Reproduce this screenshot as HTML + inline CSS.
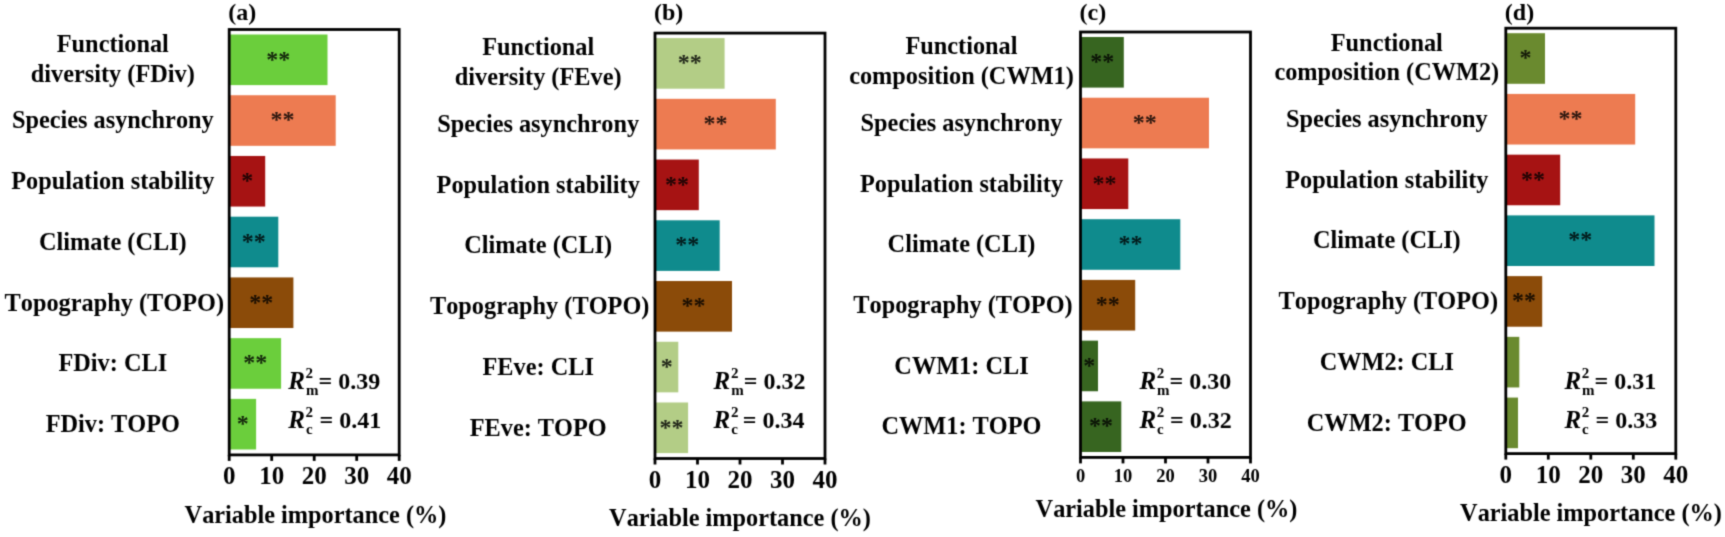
<!DOCTYPE html>
<html><head><meta charset="utf-8"><title>Variable importance</title>
<style>
html,body{margin:0;padding:0;background:#fff;}
svg{display:block;}
text{font-family:'Liberation Serif', 'Times New Roman', serif;font-weight:bold;fill:#000;font-kerning:none;}
</style></head><body>
<svg width="1725" height="537" viewBox="0 0 1725 537">
<defs><filter id="soft" x="0" y="0" width="1725" height="537" filterUnits="userSpaceOnUse" color-interpolation-filters="sRGB"><feConvolveMatrix order="3" kernelMatrix="1 4 1 4 16 4 1 4 1" divisor="36" edgeMode="duplicate"/></filter></defs>
<g filter="url(#soft)">
<rect width="1725" height="537" fill="#fff"/>
<g><rect x="229.2" y="34.5" width="98.3" height="50.6" fill="#6bce3c"/><rect x="229.2" y="95.23" width="106.5" height="50.6" fill="#ed7b51"/><rect x="229.2" y="155.96" width="36" height="50.6" fill="#a61313"/><rect x="229.2" y="216.69" width="49.1" height="50.6" fill="#0f8b8d"/><rect x="229.2" y="277.42" width="64.2" height="50.6" fill="#8b4b09"/><rect x="229.2" y="338.15" width="51.9" height="50.6" fill="#6bce3c"/><rect x="229.2" y="398.88" width="26.9" height="50.6" fill="#6bce3c"/><rect x="229.2" y="29.5" width="170" height="425.4" fill="none" stroke="#000" stroke-width="2.8"/><line x1="229.2" y1="454.9" x2="229.2" y2="460.9" stroke="#000" stroke-width="2.8"/><line x1="271.7" y1="454.9" x2="271.7" y2="460.9" stroke="#000" stroke-width="2.8"/><line x1="314.2" y1="454.9" x2="314.2" y2="460.9" stroke="#000" stroke-width="2.8"/><line x1="356.7" y1="454.9" x2="356.7" y2="460.9" stroke="#000" stroke-width="2.8"/><line x1="399.2" y1="454.9" x2="399.2" y2="460.9" stroke="#000" stroke-width="2.8"/><text x="229.2" y="483.9" font-size="25" text-anchor="middle">0</text><text x="271.7" y="483.9" font-size="25" text-anchor="middle">10</text><text x="314.2" y="483.9" font-size="25" text-anchor="middle">20</text><text x="356.7" y="483.9" font-size="25" text-anchor="middle">30</text><text x="399.2" y="483.9" font-size="25" text-anchor="middle">40</text><text x="315.5" y="522.8" font-size="24.3" text-anchor="middle">Variable importance (%)</text><text x="228.2" y="19.5" font-size="24">(a)</text><text x="112.8" y="51.8" font-size="24.3" text-anchor="middle">Functional</text><text x="112.8" y="81.5" font-size="24.3" text-anchor="middle">diversity (FDiv)</text><text x="278.35" y="66.6" font-size="24" text-anchor="middle" fill="#000" fill-opacity="0.82">**</text><text x="112.8" y="128.33" font-size="24.3" text-anchor="middle">Species asynchrony</text><text x="282.45" y="127.33" font-size="24" text-anchor="middle" fill="#000" fill-opacity="0.82">**</text><text x="112.8" y="189.06" font-size="24.3" text-anchor="middle">Population stability</text><text x="247.2" y="188.06" font-size="24" text-anchor="middle" fill="#000" fill-opacity="0.82">*</text><text x="112.8" y="249.79" font-size="24.3" text-anchor="middle">Climate (CLI)</text><text x="253.75" y="248.79" font-size="24" text-anchor="middle" fill="#000" fill-opacity="0.82">**</text><text x="114.3" y="310.52" font-size="24.3" text-anchor="middle">Topography (TOPO)</text><text x="261.3" y="309.52" font-size="24" text-anchor="middle" fill="#000" fill-opacity="0.82">**</text><text x="112.8" y="371.25" font-size="24.3" text-anchor="middle">FDiv: CLI</text><text x="255.15" y="370.25" font-size="24" text-anchor="middle" fill="#000" fill-opacity="0.82">**</text><text x="112.8" y="431.98" font-size="24.3" text-anchor="middle">FDiv: TOPO</text><text x="242.65" y="430.98" font-size="24" text-anchor="middle" fill="#000" fill-opacity="0.82">*</text><text x="288.3" y="388.6" font-size="25" font-style="italic">R</text><text x="305.6" y="378" font-size="15">2</text><text x="305.9" y="394.8" font-size="15">m</text><text x="318.5" y="389" font-size="24" xml:space="preserve">= 0.39</text><text x="288.3" y="427.6" font-size="25" font-style="italic">R</text><text x="305.6" y="417" font-size="15">2</text><text x="305.9" y="433.8" font-size="15">c</text><text x="319.5" y="428" font-size="24" xml:space="preserve">= 0.41</text></g>
<g><rect x="655" y="38.1" width="69.6" height="50.6" fill="#b3cd86"/><rect x="655" y="98.83" width="120.8" height="50.6" fill="#ed7b51"/><rect x="655" y="159.56" width="43.8" height="50.6" fill="#a61313"/><rect x="655" y="220.29" width="64.7" height="50.6" fill="#0f8b8d"/><rect x="655" y="281.02" width="77" height="50.6" fill="#8b4b09"/><rect x="655" y="341.75" width="23.3" height="50.6" fill="#b3cd86"/><rect x="655" y="402.48" width="33.1" height="50.6" fill="#b3cd86"/><rect x="655" y="33.1" width="170" height="425.4" fill="none" stroke="#000" stroke-width="2.8"/><line x1="655" y1="458.5" x2="655" y2="464.5" stroke="#000" stroke-width="2.8"/><line x1="697.5" y1="458.5" x2="697.5" y2="464.5" stroke="#000" stroke-width="2.8"/><line x1="740" y1="458.5" x2="740" y2="464.5" stroke="#000" stroke-width="2.8"/><line x1="782.5" y1="458.5" x2="782.5" y2="464.5" stroke="#000" stroke-width="2.8"/><line x1="825" y1="458.5" x2="825" y2="464.5" stroke="#000" stroke-width="2.8"/><text x="655" y="487.5" font-size="25" text-anchor="middle">0</text><text x="697.5" y="487.5" font-size="25" text-anchor="middle">10</text><text x="740" y="487.5" font-size="25" text-anchor="middle">20</text><text x="782.5" y="487.5" font-size="25" text-anchor="middle">30</text><text x="825" y="487.5" font-size="25" text-anchor="middle">40</text><text x="740" y="526.1" font-size="24.3" text-anchor="middle">Variable importance (%)</text><text x="654" y="19.5" font-size="24">(b)</text><text x="538.2" y="55.4" font-size="24.3" text-anchor="middle">Functional</text><text x="538.2" y="85.1" font-size="24.3" text-anchor="middle">diversity (FEve)</text><text x="689.8" y="70.2" font-size="24" text-anchor="middle" fill="#000" fill-opacity="0.82">**</text><text x="538.2" y="131.93" font-size="24.3" text-anchor="middle">Species asynchrony</text><text x="715.4" y="130.93" font-size="24" text-anchor="middle" fill="#000" fill-opacity="0.82">**</text><text x="538.2" y="192.66" font-size="24.3" text-anchor="middle">Population stability</text><text x="676.9" y="191.66" font-size="24" text-anchor="middle" fill="#000" fill-opacity="0.82">**</text><text x="538.2" y="253.39" font-size="24.3" text-anchor="middle">Climate (CLI)</text><text x="687.35" y="252.39" font-size="24" text-anchor="middle" fill="#000" fill-opacity="0.82">**</text><text x="539.7" y="314.12" font-size="24.3" text-anchor="middle">Topography (TOPO)</text><text x="693.5" y="313.12" font-size="24" text-anchor="middle" fill="#000" fill-opacity="0.82">**</text><text x="538.2" y="374.85" font-size="24.3" text-anchor="middle">FEve: CLI</text><text x="666.65" y="373.85" font-size="24" text-anchor="middle" fill="#000" fill-opacity="0.82">*</text><text x="538.2" y="435.58" font-size="24.3" text-anchor="middle">FEve: TOPO</text><text x="671.55" y="434.58" font-size="24" text-anchor="middle" fill="#000" fill-opacity="0.82">**</text><text x="713.6" y="388.9" font-size="25" font-style="italic">R</text><text x="730.9" y="378.3" font-size="15">2</text><text x="731.2" y="395.1" font-size="15">m</text><text x="743.8" y="389.3" font-size="24" xml:space="preserve">= 0.32</text><text x="713.6" y="427.8" font-size="25" font-style="italic">R</text><text x="730.9" y="417.2" font-size="15">2</text><text x="731.2" y="434" font-size="15">c</text><text x="742.8" y="428.2" font-size="24" xml:space="preserve">= 0.34</text></g>
<g><rect x="1080.5" y="37" width="43.3" height="50.6" fill="#376520"/><rect x="1080.5" y="97.73" width="128.5" height="50.6" fill="#ed7b51"/><rect x="1080.5" y="158.46" width="47.8" height="50.6" fill="#a61313"/><rect x="1080.5" y="219.19" width="99.8" height="50.6" fill="#0f8b8d"/><rect x="1080.5" y="279.92" width="54.7" height="50.6" fill="#8b4b09"/><rect x="1080.5" y="340.65" width="17.5" height="50.6" fill="#376520"/><rect x="1080.5" y="401.38" width="40.8" height="50.6" fill="#376520"/><rect x="1080.5" y="32" width="170" height="425.4" fill="none" stroke="#000" stroke-width="2.8"/><line x1="1080.5" y1="457.4" x2="1080.5" y2="463.4" stroke="#000" stroke-width="2.8"/><line x1="1123" y1="457.4" x2="1123" y2="463.4" stroke="#000" stroke-width="2.8"/><line x1="1165.5" y1="457.4" x2="1165.5" y2="463.4" stroke="#000" stroke-width="2.8"/><line x1="1208" y1="457.4" x2="1208" y2="463.4" stroke="#000" stroke-width="2.8"/><line x1="1250.5" y1="457.4" x2="1250.5" y2="463.4" stroke="#000" stroke-width="2.8"/><text x="1080.5" y="481.5" font-size="18.5" text-anchor="middle">0</text><text x="1123" y="481.5" font-size="18.5" text-anchor="middle">10</text><text x="1165.5" y="481.5" font-size="18.5" text-anchor="middle">20</text><text x="1208" y="481.5" font-size="18.5" text-anchor="middle">30</text><text x="1250.5" y="481.5" font-size="18.5" text-anchor="middle">40</text><text x="1166.5" y="516.7" font-size="24.3" text-anchor="middle">Variable importance (%)</text><text x="1079.5" y="19.5" font-size="24">(c)</text><text x="961.5" y="54.3" font-size="24.3" text-anchor="middle">Functional</text><text x="961.5" y="84" font-size="24.3" text-anchor="middle">composition (CWM1)</text><text x="1102.15" y="69.1" font-size="24" text-anchor="middle" fill="#000" fill-opacity="0.82">**</text><text x="961.5" y="130.83" font-size="24.3" text-anchor="middle">Species asynchrony</text><text x="1144.75" y="129.83" font-size="24" text-anchor="middle" fill="#000" fill-opacity="0.82">**</text><text x="961.5" y="191.56" font-size="24.3" text-anchor="middle">Population stability</text><text x="1104.4" y="190.56" font-size="24" text-anchor="middle" fill="#000" fill-opacity="0.82">**</text><text x="961.5" y="252.29" font-size="24.3" text-anchor="middle">Climate (CLI)</text><text x="1130.4" y="251.29" font-size="24" text-anchor="middle" fill="#000" fill-opacity="0.82">**</text><text x="963" y="313.02" font-size="24.3" text-anchor="middle">Topography (TOPO)</text><text x="1107.85" y="312.02" font-size="24" text-anchor="middle" fill="#000" fill-opacity="0.82">**</text><text x="961.5" y="373.75" font-size="24.3" text-anchor="middle">CWM1: CLI</text><text x="1089.25" y="372.75" font-size="24" text-anchor="middle" fill="#000" fill-opacity="0.82">*</text><text x="961.5" y="434.48" font-size="24.3" text-anchor="middle">CWM1: TOPO</text><text x="1100.9" y="433.48" font-size="24" text-anchor="middle" fill="#000" fill-opacity="0.82">**</text><text x="1139.4" y="388.9" font-size="25" font-style="italic">R</text><text x="1156.7" y="378.3" font-size="15">2</text><text x="1157" y="395.1" font-size="15">m</text><text x="1169.6" y="389.3" font-size="24" xml:space="preserve">= 0.30</text><text x="1139.4" y="427.8" font-size="25" font-style="italic">R</text><text x="1156.7" y="417.2" font-size="15">2</text><text x="1157" y="434" font-size="15">c</text><text x="1170.1" y="428.2" font-size="24" xml:space="preserve">= 0.32</text></g>
<g><rect x="1505.8" y="33.2" width="39.2" height="50.6" fill="#6a8a2f"/><rect x="1505.8" y="93.93" width="129.4" height="50.6" fill="#ed7b51"/><rect x="1505.8" y="154.66" width="54.4" height="50.6" fill="#a61313"/><rect x="1505.8" y="215.39" width="148.7" height="50.6" fill="#0f8b8d"/><rect x="1505.8" y="276.12" width="36.4" height="50.6" fill="#8b4b09"/><rect x="1505.8" y="336.85" width="13.5" height="50.6" fill="#6a8a2f"/><rect x="1505.8" y="397.58" width="12.2" height="50.6" fill="#6a8a2f"/><rect x="1505.8" y="28.2" width="170" height="425.4" fill="none" stroke="#000" stroke-width="2.8"/><line x1="1505.8" y1="453.6" x2="1505.8" y2="459.6" stroke="#000" stroke-width="2.8"/><line x1="1548.3" y1="453.6" x2="1548.3" y2="459.6" stroke="#000" stroke-width="2.8"/><line x1="1590.8" y1="453.6" x2="1590.8" y2="459.6" stroke="#000" stroke-width="2.8"/><line x1="1633.3" y1="453.6" x2="1633.3" y2="459.6" stroke="#000" stroke-width="2.8"/><line x1="1675.8" y1="453.6" x2="1675.8" y2="459.6" stroke="#000" stroke-width="2.8"/><text x="1505.8" y="482.6" font-size="25" text-anchor="middle">0</text><text x="1548.3" y="482.6" font-size="25" text-anchor="middle">10</text><text x="1590.8" y="482.6" font-size="25" text-anchor="middle">20</text><text x="1633.3" y="482.6" font-size="25" text-anchor="middle">30</text><text x="1675.8" y="482.6" font-size="25" text-anchor="middle">40</text><text x="1591" y="521.4" font-size="24.3" text-anchor="middle">Variable importance (%)</text><text x="1504.8" y="19.5" font-size="24">(d)</text><text x="1386.8" y="50.5" font-size="24.3" text-anchor="middle">Functional</text><text x="1386.8" y="80.2" font-size="24.3" text-anchor="middle">composition (CWM2)</text><text x="1525.4" y="65.3" font-size="24" text-anchor="middle" fill="#000" fill-opacity="0.82">*</text><text x="1386.8" y="127.03" font-size="24.3" text-anchor="middle">Species asynchrony</text><text x="1570.5" y="126.03" font-size="24" text-anchor="middle" fill="#000" fill-opacity="0.82">**</text><text x="1386.8" y="187.76" font-size="24.3" text-anchor="middle">Population stability</text><text x="1533" y="186.76" font-size="24" text-anchor="middle" fill="#000" fill-opacity="0.82">**</text><text x="1386.8" y="248.49" font-size="24.3" text-anchor="middle">Climate (CLI)</text><text x="1580.15" y="247.49" font-size="24" text-anchor="middle" fill="#000" fill-opacity="0.82">**</text><text x="1388.3" y="309.22" font-size="24.3" text-anchor="middle">Topography (TOPO)</text><text x="1524" y="308.22" font-size="24" text-anchor="middle" fill="#000" fill-opacity="0.82">**</text><text x="1386.8" y="369.95" font-size="24.3" text-anchor="middle">CWM2: CLI</text><text x="1386.8" y="430.68" font-size="24.3" text-anchor="middle">CWM2: TOPO</text><text x="1564.4" y="388.7" font-size="25" font-style="italic">R</text><text x="1581.7" y="378.1" font-size="15">2</text><text x="1582" y="394.9" font-size="15">m</text><text x="1594.6" y="389.1" font-size="24" xml:space="preserve">= 0.31</text><text x="1564.4" y="427.6" font-size="25" font-style="italic">R</text><text x="1581.7" y="417" font-size="15">2</text><text x="1582" y="433.8" font-size="15">c</text><text x="1595.6" y="428" font-size="24" xml:space="preserve">= 0.33</text></g>
</g>
</svg>
</body></html>
